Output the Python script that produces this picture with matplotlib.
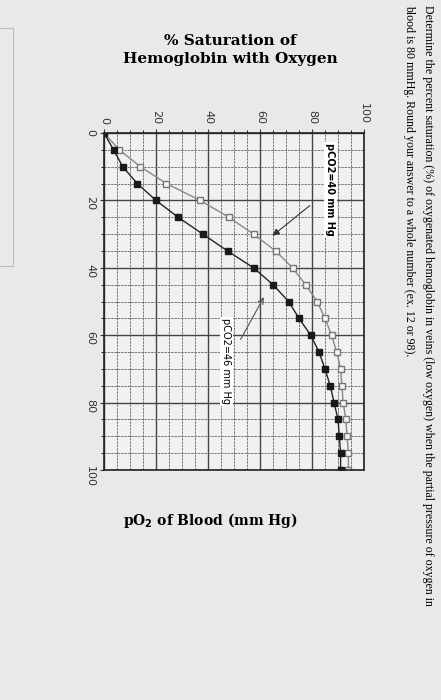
import matplotlib.pyplot as plt
from matplotlib.patches import Rectangle

# pO2 (mm Hg) and % saturation for the two curves
po2 = [0, 5, 10, 15, 20, 25, 30, 35, 40, 45, 50, 55, 60, 65, 70, 75, 80, 85, 90, 95, 100]
sat_40 = [0, 5.9, 14, 24, 37, 48, 57.5, 66, 72.5, 77.5, 82, 85, 87.5, 89.5, 91, 91.5, 92, 93, 93.5, 94, 94]
sat_46 = [0, 3.7, 7.2, 12.8, 20, 28.5, 38, 47.5, 57.5, 65, 71, 75, 79.5, 82.7, 85, 87, 88.5, 90, 90.5, 91, 91]
ticks = [0, 20, 40, 60, 80, 100]

fig = plt.figure(figsize=(4.41, 7.0), dpi=100)
fig.patch.set_facecolor('#e9e9e7')
fig.patches.append(Rectangle((-0.01, 0.62), 0.04, 0.34, transform=fig.transFigure,
                             fill=False, edgecolor='#bbbbbb', lw=0.8))

# chart is rotated: saturation runs left->right, pO2 runs top->bottom
ax = fig.add_axes([104 / 441, 230 / 700, 260 / 441, 337 / 700])
ax.set_facecolor('#f1f1ef')
ax.set_xlim(0, 100)
ax.set_ylim(100, 0)
ax.set_xticks(ticks)
ax.set_yticks(ticks)
ax.set_xticks(range(0, 101, 5), minor=True)
ax.set_yticks(range(0, 101, 5), minor=True)
ax.grid(which='major', color='#444444', lw=1.0)
ax.grid(which='minor', color='#666666', lw=0.6, ls=(0, (3, 1)))
ax.xaxis.tick_top()
for lab in ax.get_xticklabels():
    lab.set_rotation(-90)
for lab in ax.get_yticklabels():
    lab.set_rotation(-90)
ax.tick_params(labelsize=8, colors='#333333', length=3)
for s in ax.spines.values():
    s.set_color('#222222')
    s.set_linewidth(1.2)

ax.plot(sat_40, po2, color='#888888', lw=1, marker='s', ms=4,
        mfc='#f4f4f4', mec='#777777')
ax.plot(sat_46, po2, color='#222222', lw=1, marker='s', ms=4,
        mfc='#1a1a1a', mec='#1a1a1a')

ax.text(87, 3, 'pCO2=40 mm Hg', rotation=-90, fontsize=7, ha='center', va='top',
        fontweight='bold', bbox=dict(fc='white', ec='none', pad=1))
ax.text(47, 55, 'pCO2=46 mm Hg', rotation=-90, fontsize=7, ha='center', va='top',
        bbox=dict(fc='white', ec='none', pad=1))
ax.annotate('', xy=(64, 31), xytext=(80, 21),
            arrowprops=dict(arrowstyle='-|>', color='#333333', lw=0.8))
ax.annotate('', xy=(62, 48), xytext=(52, 62),
            arrowprops=dict(arrowstyle='->', color='#555555', lw=0.8))

fig.text(230 / 441, 1 - 50 / 700, '% Saturation of\nHemoglobin with Oxygen', ha='center',
         va='center', fontsize=11, fontweight='bold', family='DejaVu Serif',
         linespacing=1.3)
fig.text(210 / 441, 1 - 520 / 700, r'pO$_{\mathbf{2}}$ of Blood (mm Hg)', ha='center',
         va='center', fontsize=10, fontweight='bold', family='DejaVu Serif')

fig.text(428 / 441, 1 - 5 / 700,
         'Determine the percent saturation (%) of oxygenated hemoglobin in veins (low oxygen) when the partial pressure of oxygen in',
         rotation=-90, ha='center', va='top', fontsize=8.6, family='Liberation Serif')
fig.text(409 / 441, 1 - 5 / 700,
         'blood is 80 mmHg. Round your answer to a whole number (ex. 12 or 98).',
         rotation=-90, ha='center', va='top', fontsize=8.6, family='Liberation Serif')

fig.savefig('out.png', dpi=100, facecolor=fig.get_facecolor())
